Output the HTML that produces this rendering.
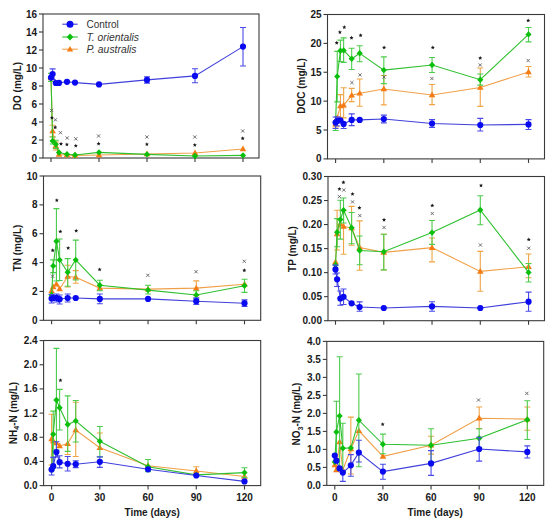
<!DOCTYPE html>
<html><head><meta charset="utf-8"><style>
html,body{margin:0;padding:0;background:#fff;width:550px;height:526px;overflow:hidden}
svg{display:block}
.tl{font-family:"Liberation Sans",sans-serif;font-weight:bold;font-size:10px;fill:#1a1a1a}
.ax{font-family:"Liberation Sans",sans-serif;font-weight:bold;font-size:10px;fill:#1a1a1a}
.lg{font-family:"Liberation Sans",sans-serif;font-size:10px;fill:#333}
</style></head><body>
<svg width="550" height="526" viewBox="0 0 550 526">
<rect x="43" y="14" width="216" height="144" fill="none" stroke="#3a3a3a" stroke-width="1.1"/>
<line x1="39" y1="158" x2="43" y2="158" stroke="#3a3a3a" stroke-width="1.1"/>
<text transform="translate(37,161.5)" text-anchor="end" class="tl">0</text>
<line x1="39" y1="140" x2="43" y2="140" stroke="#3a3a3a" stroke-width="1.1"/>
<text transform="translate(37,143.5)" text-anchor="end" class="tl">2</text>
<line x1="39" y1="122" x2="43" y2="122" stroke="#3a3a3a" stroke-width="1.1"/>
<text transform="translate(37,125.5)" text-anchor="end" class="tl">4</text>
<line x1="39" y1="104" x2="43" y2="104" stroke="#3a3a3a" stroke-width="1.1"/>
<text transform="translate(37,107.5)" text-anchor="end" class="tl">6</text>
<line x1="39" y1="86" x2="43" y2="86" stroke="#3a3a3a" stroke-width="1.1"/>
<text transform="translate(37,89.5)" text-anchor="end" class="tl">8</text>
<line x1="39" y1="68" x2="43" y2="68" stroke="#3a3a3a" stroke-width="1.1"/>
<text transform="translate(37,71.5)" text-anchor="end" class="tl">10</text>
<line x1="39" y1="50" x2="43" y2="50" stroke="#3a3a3a" stroke-width="1.1"/>
<text transform="translate(37,53.5)" text-anchor="end" class="tl">12</text>
<line x1="39" y1="32" x2="43" y2="32" stroke="#3a3a3a" stroke-width="1.1"/>
<text transform="translate(37,35.5)" text-anchor="end" class="tl">14</text>
<line x1="39" y1="14" x2="43" y2="14" stroke="#3a3a3a" stroke-width="1.1"/>
<text transform="translate(37,17.5)" text-anchor="end" class="tl">16</text>
<line x1="51" y1="158" x2="51" y2="162" stroke="#3a3a3a" stroke-width="1.1"/>
<line x1="99" y1="158" x2="99" y2="162" stroke="#3a3a3a" stroke-width="1.1"/>
<line x1="147" y1="158" x2="147" y2="162" stroke="#3a3a3a" stroke-width="1.1"/>
<line x1="195" y1="158" x2="195" y2="162" stroke="#3a3a3a" stroke-width="1.1"/>
<line x1="243" y1="158" x2="243" y2="162" stroke="#3a3a3a" stroke-width="1.1"/>
<text transform="translate(20.6,86) rotate(-90)" text-anchor="middle" class="ax">DO (mg/L)</text>
<path d="M52.6 131V125.3M49.6 125.3H55.6" stroke="#f0a446" stroke-width="1.1" fill="none"/>
<path d="M52.6 131V136.8M49.6 136.8H55.6" stroke="#f0a446" stroke-width="1.1" fill="none"/>
<path d="M55.8 146V142M52.8 142H58.8" stroke="#f0a446" stroke-width="1.1" fill="none"/>
<path d="M55.8 146V150M52.8 150H58.8" stroke="#f0a446" stroke-width="1.1" fill="none"/>
<polyline points="51,78 52.6,131 55.8,146 59,154.5 67,155 75,155.5 99,155 147,154 195,153 243,149" fill="none" stroke="#f0a048" stroke-width="1.1"/>
<path d="M51 74.6L54.3 80.3L47.7 80.3Z" fill="#f57c14"/>
<path d="M52.6 127.6L55.9 133.3L49.3 133.3Z" fill="#f57c14"/>
<path d="M55.8 142.6L59.1 148.3L52.5 148.3Z" fill="#f57c14"/>
<path d="M59 151.1L62.3 156.8L55.7 156.8Z" fill="#f57c14"/>
<path d="M67 151.6L70.3 157.3L63.7 157.3Z" fill="#f57c14"/>
<path d="M75 152.1L78.3 157.8L71.7 157.8Z" fill="#f57c14"/>
<path d="M99 151.6L102.3 157.3L95.7 157.3Z" fill="#f57c14"/>
<path d="M147 150.6L150.3 156.3L143.7 156.3Z" fill="#f57c14"/>
<path d="M195 149.6L198.3 155.3L191.7 155.3Z" fill="#f57c14"/>
<path d="M243 145.6L246.3 151.3L239.7 151.3Z" fill="#f57c14"/>
<path d="M51 78V73.4M48 73.4H54" stroke="#4ccc4c" stroke-width="1.1" fill="none"/>
<path d="M51 78V81.5M48 81.5H54" stroke="#4ccc4c" stroke-width="1.1" fill="none"/>
<path d="M52.6 140.9V137M49.6 137H55.6" stroke="#4ccc4c" stroke-width="1.1" fill="none"/>
<path d="M52.6 140.9V144M49.6 144H55.6" stroke="#4ccc4c" stroke-width="1.1" fill="none"/>
<path d="M55.8 144.3V140.3M52.8 140.3H58.8" stroke="#4ccc4c" stroke-width="1.1" fill="none"/>
<path d="M55.8 144.3V148.4M52.8 148.4H58.8" stroke="#4ccc4c" stroke-width="1.1" fill="none"/>
<polyline points="51,78 52.6,140.9 55.8,144.3 59,152.5 67,154.3 75,155 99,152.4 147,154.4 195,156 243,155.4" fill="none" stroke="#2ec02e" stroke-width="1.1"/>
<path d="M51 74.8L54.1 78L51 81.2L47.9 78Z" fill="#0cbf0c"/>
<path d="M52.6 137.7L55.7 140.9L52.6 144.1L49.5 140.9Z" fill="#0cbf0c"/>
<path d="M55.8 141.1L58.9 144.3L55.8 147.5L52.7 144.3Z" fill="#0cbf0c"/>
<path d="M59 149.3L62.1 152.5L59 155.7L55.9 152.5Z" fill="#0cbf0c"/>
<path d="M67 151.1L70.1 154.3L67 157.5L63.9 154.3Z" fill="#0cbf0c"/>
<path d="M75 151.8L78.1 155L75 158.2L71.9 155Z" fill="#0cbf0c"/>
<path d="M99 149.2L102.1 152.4L99 155.6L95.9 152.4Z" fill="#0cbf0c"/>
<path d="M147 151.2L150.1 154.4L147 157.6L143.9 154.4Z" fill="#0cbf0c"/>
<path d="M195 152.8L198.1 156L195 159.2L191.9 156Z" fill="#0cbf0c"/>
<path d="M243 152.2L246.1 155.4L243 158.6L239.9 155.4Z" fill="#0cbf0c"/>
<path d="M52.6 74.1V68.9M49.6 68.9H55.6" stroke="#4a4ae6" stroke-width="1.1" fill="none"/>
<path d="M52.6 74.1V79.5M49.6 79.5H55.6" stroke="#4a4ae6" stroke-width="1.1" fill="none"/>
<path d="M147 79.9V76.7M144 76.7H150" stroke="#4a4ae6" stroke-width="1.1" fill="none"/>
<path d="M147 79.9V83.1M144 83.1H150" stroke="#4a4ae6" stroke-width="1.1" fill="none"/>
<path d="M195 75.9V68.7M192 68.7H198" stroke="#4a4ae6" stroke-width="1.1" fill="none"/>
<path d="M195 75.9V82.8M192 82.8H198" stroke="#4a4ae6" stroke-width="1.1" fill="none"/>
<path d="M243 46.6V27.5M240 27.5H246" stroke="#4a4ae6" stroke-width="1.1" fill="none"/>
<path d="M243 46.6V66M240 66H246" stroke="#4a4ae6" stroke-width="1.1" fill="none"/>
<polyline points="51,77.6 52.6,74.1 55.8,83 59,82.9 67,81.8 75,82.6 99,84.4 147,79.9 195,75.9 243,46.6" fill="none" stroke="#4040dc" stroke-width="1.1"/>
<circle cx="51" cy="77.6" r="3.1" fill="#0a0af0"/>
<circle cx="52.6" cy="74.1" r="3.1" fill="#0a0af0"/>
<circle cx="55.8" cy="83" r="3.1" fill="#0a0af0"/>
<circle cx="59" cy="82.9" r="3.1" fill="#0a0af0"/>
<circle cx="67" cy="81.8" r="3.1" fill="#0a0af0"/>
<circle cx="75" cy="82.6" r="3.1" fill="#0a0af0"/>
<circle cx="99" cy="84.4" r="3.1" fill="#0a0af0"/>
<circle cx="147" cy="79.9" r="3.1" fill="#0a0af0"/>
<circle cx="195" cy="75.9" r="3.1" fill="#0a0af0"/>
<circle cx="243" cy="46.6" r="3.1" fill="#0a0af0"/>
<path transform="translate(51.9,117.8)" d="M0.00 -2.10L0.59 -0.81L2.00 -0.65L0.95 0.31L1.23 1.70L0.00 1.00L-1.23 1.70L-0.95 0.31L-2.00 -0.65L-0.59 -0.81Z" fill="#1a1a1a"/>
<path transform="translate(55.2,127.4)" d="M0.00 -2.10L0.59 -0.81L2.00 -0.65L0.95 0.31L1.23 1.70L0.00 1.00L-1.23 1.70L-0.95 0.31L-2.00 -0.65L-0.59 -0.81Z" fill="#1a1a1a"/>
<path transform="translate(61,143.9)" d="M0.00 -2.10L0.59 -0.81L2.00 -0.65L0.95 0.31L1.23 1.70L0.00 1.00L-1.23 1.70L-0.95 0.31L-2.00 -0.65L-0.59 -0.81Z" fill="#1a1a1a"/>
<path transform="translate(66.9,144.5)" d="M0.00 -2.10L0.59 -0.81L2.00 -0.65L0.95 0.31L1.23 1.70L0.00 1.00L-1.23 1.70L-0.95 0.31L-2.00 -0.65L-0.59 -0.81Z" fill="#1a1a1a"/>
<path transform="translate(75.8,145.8)" d="M0.00 -2.10L0.59 -0.81L2.00 -0.65L0.95 0.31L1.23 1.70L0.00 1.00L-1.23 1.70L-0.95 0.31L-2.00 -0.65L-0.59 -0.81Z" fill="#1a1a1a"/>
<path transform="translate(98.6,143.7)" d="M0.00 -2.10L0.59 -0.81L2.00 -0.65L0.95 0.31L1.23 1.70L0.00 1.00L-1.23 1.70L-0.95 0.31L-2.00 -0.65L-0.59 -0.81Z" fill="#1a1a1a"/>
<path transform="translate(146.9,144.3)" d="M0.00 -2.10L0.59 -0.81L2.00 -0.65L0.95 0.31L1.23 1.70L0.00 1.00L-1.23 1.70L-0.95 0.31L-2.00 -0.65L-0.59 -0.81Z" fill="#1a1a1a"/>
<path transform="translate(194.8,145)" d="M0.00 -2.10L0.59 -0.81L2.00 -0.65L0.95 0.31L1.23 1.70L0.00 1.00L-1.23 1.70L-0.95 0.31L-2.00 -0.65L-0.59 -0.81Z" fill="#1a1a1a"/>
<path transform="translate(242.7,138.4)" d="M0.00 -2.10L0.59 -0.81L2.00 -0.65L0.95 0.31L1.23 1.70L0.00 1.00L-1.23 1.70L-0.95 0.31L-2.00 -0.65L-0.59 -0.81Z" fill="#1a1a1a"/>
<path d="M50 108.8L53.2 112M50 112L53.2 108.8" stroke="#606060" stroke-width="0.9"/>
<path d="M53.8 118.2L57 121.4M53.8 121.4L57 118.2" stroke="#606060" stroke-width="0.9"/>
<path d="M58.9 131.1L62.1 134.3M58.9 134.3L62.1 131.1" stroke="#606060" stroke-width="0.9"/>
<path d="M65.6 136.4L68.8 139.6M65.6 139.6L68.8 136.4" stroke="#606060" stroke-width="0.9"/>
<path d="M74.2 137.2L77.4 140.4M74.2 140.4L77.4 137.2" stroke="#606060" stroke-width="0.9"/>
<path d="M97 134.4L100.2 137.6M97 137.6L100.2 134.4" stroke="#606060" stroke-width="0.9"/>
<path d="M145.3 135.4L148.5 138.6M145.3 138.6L148.5 135.4" stroke="#606060" stroke-width="0.9"/>
<path d="M193.2 135.4L196.4 138.6M193.2 138.6L196.4 135.4" stroke="#606060" stroke-width="0.9"/>
<path d="M241.1 129.4L244.3 132.6M241.1 132.6L244.3 129.4" stroke="#606060" stroke-width="0.9"/>
<rect x="327.5" y="14.5" width="217" height="144.4" fill="none" stroke="#3a3a3a" stroke-width="1.1"/>
<line x1="323.5" y1="158.9" x2="327.5" y2="158.9" stroke="#3a3a3a" stroke-width="1.1"/>
<text transform="translate(321.5,162.4)" text-anchor="end" class="tl">0</text>
<line x1="323.5" y1="130.02" x2="327.5" y2="130.02" stroke="#3a3a3a" stroke-width="1.1"/>
<text transform="translate(321.5,133.52)" text-anchor="end" class="tl">5</text>
<line x1="323.5" y1="101.14" x2="327.5" y2="101.14" stroke="#3a3a3a" stroke-width="1.1"/>
<text transform="translate(321.5,104.64)" text-anchor="end" class="tl">10</text>
<line x1="323.5" y1="72.26" x2="327.5" y2="72.26" stroke="#3a3a3a" stroke-width="1.1"/>
<text transform="translate(321.5,75.76)" text-anchor="end" class="tl">15</text>
<line x1="323.5" y1="43.38" x2="327.5" y2="43.38" stroke="#3a3a3a" stroke-width="1.1"/>
<text transform="translate(321.5,46.88)" text-anchor="end" class="tl">20</text>
<line x1="323.5" y1="14.5" x2="327.5" y2="14.5" stroke="#3a3a3a" stroke-width="1.1"/>
<text transform="translate(321.5,18)" text-anchor="end" class="tl">25</text>
<line x1="335.6" y1="158.9" x2="335.6" y2="162.9" stroke="#3a3a3a" stroke-width="1.1"/>
<line x1="383.83" y1="158.9" x2="383.83" y2="162.9" stroke="#3a3a3a" stroke-width="1.1"/>
<line x1="432.05" y1="158.9" x2="432.05" y2="162.9" stroke="#3a3a3a" stroke-width="1.1"/>
<line x1="480.27" y1="158.9" x2="480.27" y2="162.9" stroke="#3a3a3a" stroke-width="1.1"/>
<line x1="528.5" y1="158.9" x2="528.5" y2="162.9" stroke="#3a3a3a" stroke-width="1.1"/>
<text transform="translate(304.5,86) rotate(-90)" text-anchor="middle" class="ax">DOC (mg/L)</text>
<path d="M335.6 124V127M332.6 127H338.6" stroke="#f0a446" stroke-width="1.1" fill="none"/>
<path d="M340.42 105.9V94.6M337.42 94.6H343.42" stroke="#f0a446" stroke-width="1.1" fill="none"/>
<path d="M340.42 105.9V117.2M337.42 117.2H343.42" stroke="#f0a446" stroke-width="1.1" fill="none"/>
<path d="M343.64 105.2V87.7M340.64 87.7H346.64" stroke="#f0a446" stroke-width="1.1" fill="none"/>
<path d="M343.64 105.2V117.9M340.64 117.9H346.64" stroke="#f0a446" stroke-width="1.1" fill="none"/>
<path d="M351.68 95.3V88.4M348.68 88.4H354.68" stroke="#f0a446" stroke-width="1.1" fill="none"/>
<path d="M351.68 95.3V101.6M348.68 101.6H354.68" stroke="#f0a446" stroke-width="1.1" fill="none"/>
<path d="M359.71 93.3V79M356.71 79H362.71" stroke="#f0a446" stroke-width="1.1" fill="none"/>
<path d="M359.71 93.3V106.2M356.71 106.2H362.71" stroke="#f0a446" stroke-width="1.1" fill="none"/>
<path d="M383.83 89V75.5M380.83 75.5H386.83" stroke="#f0a446" stroke-width="1.1" fill="none"/>
<path d="M383.83 89V104.9M380.83 104.9H386.83" stroke="#f0a446" stroke-width="1.1" fill="none"/>
<path d="M432.05 95V84.5M429.05 84.5H435.05" stroke="#f0a446" stroke-width="1.1" fill="none"/>
<path d="M432.05 95V104.6M429.05 104.6H435.05" stroke="#f0a446" stroke-width="1.1" fill="none"/>
<path d="M480.27 87.5V68M477.27 68H483.27" stroke="#f0a446" stroke-width="1.1" fill="none"/>
<path d="M480.27 87.5V106.4M477.27 106.4H483.27" stroke="#f0a446" stroke-width="1.1" fill="none"/>
<path d="M528.5 71.9V66.5M525.5 66.5H531.5" stroke="#f0a446" stroke-width="1.1" fill="none"/>
<path d="M528.5 71.9V77M525.5 77H531.5" stroke="#f0a446" stroke-width="1.1" fill="none"/>
<polyline points="335.6,124 337.21,118 340.42,105.9 343.64,105.2 351.68,95.3 359.71,93.3 383.83,89 432.05,95 480.27,87.5 528.5,71.9" fill="none" stroke="#f0a048" stroke-width="1.1"/>
<path d="M335.6 120.6L338.9 126.3L332.3 126.3Z" fill="#f57c14"/>
<path d="M337.21 114.6L340.51 120.3L333.91 120.3Z" fill="#f57c14"/>
<path d="M340.42 102.5L343.72 108.2L337.12 108.2Z" fill="#f57c14"/>
<path d="M343.64 101.8L346.94 107.5L340.34 107.5Z" fill="#f57c14"/>
<path d="M351.68 91.9L354.98 97.6L348.38 97.6Z" fill="#f57c14"/>
<path d="M359.71 89.9L363.01 95.6L356.41 95.6Z" fill="#f57c14"/>
<path d="M383.83 85.6L387.13 91.3L380.53 91.3Z" fill="#f57c14"/>
<path d="M432.05 91.6L435.35 97.3L428.75 97.3Z" fill="#f57c14"/>
<path d="M480.27 84.1L483.57 89.8L476.97 89.8Z" fill="#f57c14"/>
<path d="M528.5 68.5L531.8 74.2L525.2 74.2Z" fill="#f57c14"/>
<path d="M335.6 122V130.5M332.6 130.5H338.6" stroke="#4ccc4c" stroke-width="1.1" fill="none"/>
<path d="M337.21 76.4V51.4M334.21 51.4H340.21" stroke="#4ccc4c" stroke-width="1.1" fill="none"/>
<path d="M337.21 76.4V101.9M334.21 101.9H340.21" stroke="#4ccc4c" stroke-width="1.1" fill="none"/>
<path d="M340.42 50.7V40.1M337.42 40.1H343.42" stroke="#4ccc4c" stroke-width="1.1" fill="none"/>
<path d="M340.42 50.7V61.5M337.42 61.5H343.42" stroke="#4ccc4c" stroke-width="1.1" fill="none"/>
<path d="M343.64 50.4V37.9M340.64 37.9H346.64" stroke="#4ccc4c" stroke-width="1.1" fill="none"/>
<path d="M343.64 50.4V62.4M340.64 62.4H346.64" stroke="#4ccc4c" stroke-width="1.1" fill="none"/>
<path d="M351.68 58.8V48.2M348.68 48.2H354.68" stroke="#4ccc4c" stroke-width="1.1" fill="none"/>
<path d="M351.68 58.8V69.5M348.68 69.5H354.68" stroke="#4ccc4c" stroke-width="1.1" fill="none"/>
<path d="M359.71 53.3V45.7M356.71 45.7H362.71" stroke="#4ccc4c" stroke-width="1.1" fill="none"/>
<path d="M359.71 53.3V61.7M356.71 61.7H362.71" stroke="#4ccc4c" stroke-width="1.1" fill="none"/>
<path d="M383.83 70.1V56.9M380.83 56.9H386.83" stroke="#4ccc4c" stroke-width="1.1" fill="none"/>
<path d="M383.83 70.1V83.6M380.83 83.6H386.83" stroke="#4ccc4c" stroke-width="1.1" fill="none"/>
<path d="M432.05 65V57.5M429.05 57.5H435.05" stroke="#4ccc4c" stroke-width="1.1" fill="none"/>
<path d="M432.05 65V72.5M429.05 72.5H435.05" stroke="#4ccc4c" stroke-width="1.1" fill="none"/>
<path d="M480.27 79.7V74M477.27 74H483.27" stroke="#4ccc4c" stroke-width="1.1" fill="none"/>
<path d="M480.27 79.7V85.1M477.27 85.1H483.27" stroke="#4ccc4c" stroke-width="1.1" fill="none"/>
<path d="M528.5 34.4V27.5M525.5 27.5H531.5" stroke="#4ccc4c" stroke-width="1.1" fill="none"/>
<path d="M528.5 34.4V41.9M525.5 41.9H531.5" stroke="#4ccc4c" stroke-width="1.1" fill="none"/>
<polyline points="335.6,122 337.21,76.4 340.42,50.7 343.64,50.4 351.68,58.8 359.71,53.3 383.83,70.1 432.05,65 480.27,79.7 528.5,34.4" fill="none" stroke="#2ec02e" stroke-width="1.1"/>
<path d="M335.6 118.8L338.7 122L335.6 125.2L332.5 122Z" fill="#0cbf0c"/>
<path d="M337.21 73.2L340.31 76.4L337.21 79.6L334.11 76.4Z" fill="#0cbf0c"/>
<path d="M340.42 47.5L343.52 50.7L340.42 53.9L337.32 50.7Z" fill="#0cbf0c"/>
<path d="M343.64 47.2L346.74 50.4L343.64 53.6L340.54 50.4Z" fill="#0cbf0c"/>
<path d="M351.68 55.6L354.78 58.8L351.68 62L348.57 58.8Z" fill="#0cbf0c"/>
<path d="M359.71 50.1L362.81 53.3L359.71 56.5L356.61 53.3Z" fill="#0cbf0c"/>
<path d="M383.83 66.9L386.93 70.1L383.83 73.3L380.73 70.1Z" fill="#0cbf0c"/>
<path d="M432.05 61.8L435.15 65L432.05 68.2L428.95 65Z" fill="#0cbf0c"/>
<path d="M480.27 76.5L483.38 79.7L480.27 82.9L477.17 79.7Z" fill="#0cbf0c"/>
<path d="M528.5 31.2L531.6 34.4L528.5 37.6L525.4 34.4Z" fill="#0cbf0c"/>
<path d="M335.6 122.5V117M332.6 117H338.6" stroke="#4a4ae6" stroke-width="1.1" fill="none"/>
<path d="M335.6 122.5V128.5M332.6 128.5H338.6" stroke="#4a4ae6" stroke-width="1.1" fill="none"/>
<path d="M337.21 121V117M334.21 117H340.21" stroke="#4a4ae6" stroke-width="1.1" fill="none"/>
<path d="M337.21 121V126M334.21 126H340.21" stroke="#4a4ae6" stroke-width="1.1" fill="none"/>
<path d="M343.64 123.9V128.5M340.64 128.5H346.64" stroke="#4a4ae6" stroke-width="1.1" fill="none"/>
<path d="M351.68 119.9V113.9M348.68 113.9H354.68" stroke="#4a4ae6" stroke-width="1.1" fill="none"/>
<path d="M351.68 119.9V125.6M348.68 125.6H354.68" stroke="#4a4ae6" stroke-width="1.1" fill="none"/>
<path d="M383.83 119V115.1M380.83 115.1H386.83" stroke="#4a4ae6" stroke-width="1.1" fill="none"/>
<path d="M383.83 119V122.9M380.83 122.9H386.83" stroke="#4a4ae6" stroke-width="1.1" fill="none"/>
<path d="M432.05 123.5V119.6M429.05 119.6H435.05" stroke="#4a4ae6" stroke-width="1.1" fill="none"/>
<path d="M432.05 123.5V127.4M429.05 127.4H435.05" stroke="#4a4ae6" stroke-width="1.1" fill="none"/>
<path d="M480.27 125V118.4M477.27 118.4H483.27" stroke="#4a4ae6" stroke-width="1.1" fill="none"/>
<path d="M480.27 125V131M477.27 131H483.27" stroke="#4a4ae6" stroke-width="1.1" fill="none"/>
<path d="M528.5 124.4V119.6M525.5 119.6H531.5" stroke="#4a4ae6" stroke-width="1.1" fill="none"/>
<path d="M528.5 124.4V129.5M525.5 129.5H531.5" stroke="#4a4ae6" stroke-width="1.1" fill="none"/>
<polyline points="335.6,122.5 337.21,121 340.42,120.3 343.64,123.9 351.68,119.9 359.71,119.9 383.83,119 432.05,123.5 480.27,125 528.5,124.4" fill="none" stroke="#4040dc" stroke-width="1.1"/>
<circle cx="335.6" cy="122.5" r="3.1" fill="#0a0af0"/>
<circle cx="337.21" cy="121" r="3.1" fill="#0a0af0"/>
<circle cx="340.42" cy="120.3" r="3.1" fill="#0a0af0"/>
<circle cx="343.64" cy="123.9" r="3.1" fill="#0a0af0"/>
<circle cx="351.68" cy="119.9" r="3.1" fill="#0a0af0"/>
<circle cx="359.71" cy="119.9" r="3.1" fill="#0a0af0"/>
<circle cx="383.83" cy="119" r="3.1" fill="#0a0af0"/>
<circle cx="432.05" cy="123.5" r="3.1" fill="#0a0af0"/>
<circle cx="480.27" cy="125" r="3.1" fill="#0a0af0"/>
<circle cx="528.5" cy="124.4" r="3.1" fill="#0a0af0"/>
<path transform="translate(336.7,42.9)" d="M0.00 -2.10L0.59 -0.81L2.00 -0.65L0.95 0.31L1.23 1.70L0.00 1.00L-1.23 1.70L-0.95 0.31L-2.00 -0.65L-0.59 -0.81Z" fill="#1a1a1a"/>
<path transform="translate(339.9,32.2)" d="M0.00 -2.10L0.59 -0.81L2.00 -0.65L0.95 0.31L1.23 1.70L0.00 1.00L-1.23 1.70L-0.95 0.31L-2.00 -0.65L-0.59 -0.81Z" fill="#1a1a1a"/>
<path transform="translate(344.3,27.2)" d="M0.00 -2.10L0.59 -0.81L2.00 -0.65L0.95 0.31L1.23 1.70L0.00 1.00L-1.23 1.70L-0.95 0.31L-2.00 -0.65L-0.59 -0.81Z" fill="#1a1a1a"/>
<path transform="translate(351.5,37.9)" d="M0.00 -2.10L0.59 -0.81L2.00 -0.65L0.95 0.31L1.23 1.70L0.00 1.00L-1.23 1.70L-0.95 0.31L-2.00 -0.65L-0.59 -0.81Z" fill="#1a1a1a"/>
<path transform="translate(360.6,35.4)" d="M0.00 -2.10L0.59 -0.81L2.00 -0.65L0.95 0.31L1.23 1.70L0.00 1.00L-1.23 1.70L-0.95 0.31L-2.00 -0.65L-0.59 -0.81Z" fill="#1a1a1a"/>
<path transform="translate(384.1,47.6)" d="M0.00 -2.10L0.59 -0.81L2.00 -0.65L0.95 0.31L1.23 1.70L0.00 1.00L-1.23 1.70L-0.95 0.31L-2.00 -0.65L-0.59 -0.81Z" fill="#1a1a1a"/>
<path transform="translate(432.8,47.6)" d="M0.00 -2.10L0.59 -0.81L2.00 -0.65L0.95 0.31L1.23 1.70L0.00 1.00L-1.23 1.70L-0.95 0.31L-2.00 -0.65L-0.59 -0.81Z" fill="#1a1a1a"/>
<path transform="translate(480.2,58.1)" d="M0.00 -2.10L0.59 -0.81L2.00 -0.65L0.95 0.31L1.23 1.70L0.00 1.00L-1.23 1.70L-0.95 0.31L-2.00 -0.65L-0.59 -0.81Z" fill="#1a1a1a"/>
<path transform="translate(528.2,20.6)" d="M0.00 -2.10L0.59 -0.81L2.00 -0.65L0.95 0.31L1.23 1.70L0.00 1.00L-1.23 1.70L-0.95 0.31L-2.00 -0.65L-0.59 -0.81Z" fill="#1a1a1a"/>
<path d="M358.4 73.3L361.6 76.5M358.4 76.5L361.6 73.3" stroke="#606060" stroke-width="0.9"/>
<path d="M350.3 81L353.5 84.2M350.3 84.2L353.5 81" stroke="#606060" stroke-width="0.9"/>
<path d="M382.5 75.4L385.7 78.6M382.5 78.6L385.7 75.4" stroke="#606060" stroke-width="0.9"/>
<path d="M430.3 76.9L433.5 80.1M430.3 80.1L433.5 76.9" stroke="#606060" stroke-width="0.9"/>
<path d="M478.6 63.4L481.8 66.6M478.6 66.6L481.8 63.4" stroke="#606060" stroke-width="0.9"/>
<path d="M526.6 58.9L529.8 62.1M526.6 62.1L529.8 58.9" stroke="#606060" stroke-width="0.9"/>
<rect x="43.5" y="176" width="217.2" height="144.3" fill="none" stroke="#3a3a3a" stroke-width="1.1"/>
<line x1="39.5" y1="320.3" x2="43.5" y2="320.3" stroke="#3a3a3a" stroke-width="1.1"/>
<text transform="translate(37.5,323.8)" text-anchor="end" class="tl">0</text>
<line x1="39.5" y1="291.44" x2="43.5" y2="291.44" stroke="#3a3a3a" stroke-width="1.1"/>
<text transform="translate(37.5,294.94)" text-anchor="end" class="tl">2</text>
<line x1="39.5" y1="262.58" x2="43.5" y2="262.58" stroke="#3a3a3a" stroke-width="1.1"/>
<text transform="translate(37.5,266.08)" text-anchor="end" class="tl">4</text>
<line x1="39.5" y1="233.72" x2="43.5" y2="233.72" stroke="#3a3a3a" stroke-width="1.1"/>
<text transform="translate(37.5,237.22)" text-anchor="end" class="tl">6</text>
<line x1="39.5" y1="204.86" x2="43.5" y2="204.86" stroke="#3a3a3a" stroke-width="1.1"/>
<text transform="translate(37.5,208.36)" text-anchor="end" class="tl">8</text>
<line x1="39.5" y1="176" x2="43.5" y2="176" stroke="#3a3a3a" stroke-width="1.1"/>
<text transform="translate(37.5,179.5)" text-anchor="end" class="tl">10</text>
<line x1="51.6" y1="320.3" x2="51.6" y2="324.3" stroke="#3a3a3a" stroke-width="1.1"/>
<line x1="99.82" y1="320.3" x2="99.82" y2="324.3" stroke="#3a3a3a" stroke-width="1.1"/>
<line x1="148.05" y1="320.3" x2="148.05" y2="324.3" stroke="#3a3a3a" stroke-width="1.1"/>
<line x1="196.27" y1="320.3" x2="196.27" y2="324.3" stroke="#3a3a3a" stroke-width="1.1"/>
<line x1="244.5" y1="320.3" x2="244.5" y2="324.3" stroke="#3a3a3a" stroke-width="1.1"/>
<text transform="translate(21,248) rotate(-90)" text-anchor="middle" class="ax">TN (mg/L)</text>
<path d="M67.67 276.5V265.2M64.67 265.2H70.67" stroke="#f0a446" stroke-width="1.1" fill="none"/>
<path d="M67.67 276.5V287M64.67 287H70.67" stroke="#f0a446" stroke-width="1.1" fill="none"/>
<path d="M75.71 277.2V270.6M72.71 270.6H78.71" stroke="#f0a446" stroke-width="1.1" fill="none"/>
<path d="M75.71 277.2V283.2M72.71 283.2H78.71" stroke="#f0a446" stroke-width="1.1" fill="none"/>
<path d="M196.27 288.1V280.9M193.27 280.9H199.27" stroke="#f0a446" stroke-width="1.1" fill="none"/>
<path d="M196.27 288.1V295.6M193.27 295.6H199.27" stroke="#f0a446" stroke-width="1.1" fill="none"/>
<polyline points="51.6,291 53.21,287 56.42,284.2 59.64,289 67.67,276.5 75.71,277.2 99.82,288.1 148.05,289.1 196.27,288.1 244.5,284.2" fill="none" stroke="#f0a048" stroke-width="1.1"/>
<path d="M51.6 287.6L54.9 293.3L48.3 293.3Z" fill="#f57c14"/>
<path d="M53.21 283.6L56.51 289.3L49.91 289.3Z" fill="#f57c14"/>
<path d="M56.42 280.8L59.72 286.5L53.12 286.5Z" fill="#f57c14"/>
<path d="M59.64 285.6L62.94 291.3L56.34 291.3Z" fill="#f57c14"/>
<path d="M67.67 273.1L70.97 278.8L64.38 278.8Z" fill="#f57c14"/>
<path d="M75.71 273.8L79.01 279.5L72.41 279.5Z" fill="#f57c14"/>
<path d="M99.82 284.7L103.12 290.4L96.52 290.4Z" fill="#f57c14"/>
<path d="M148.05 285.7L151.35 291.4L144.75 291.4Z" fill="#f57c14"/>
<path d="M196.27 284.7L199.57 290.4L192.97 290.4Z" fill="#f57c14"/>
<path d="M244.5 280.8L247.8 286.5L241.2 286.5Z" fill="#f57c14"/>
<path d="M53.21 265.9V259.9M50.21 259.9H56.21" stroke="#4ccc4c" stroke-width="1.1" fill="none"/>
<path d="M53.21 265.9V272.6M50.21 272.6H56.21" stroke="#4ccc4c" stroke-width="1.1" fill="none"/>
<path d="M56.42 241.2V208.6M53.42 208.6H59.42" stroke="#4ccc4c" stroke-width="1.1" fill="none"/>
<path d="M56.42 241.2V281M53.42 281H59.42" stroke="#4ccc4c" stroke-width="1.1" fill="none"/>
<path d="M59.64 259.9V239M56.64 239H62.64" stroke="#4ccc4c" stroke-width="1.1" fill="none"/>
<path d="M59.64 259.9V280.5M56.64 280.5H62.64" stroke="#4ccc4c" stroke-width="1.1" fill="none"/>
<path d="M67.67 272.3V258.6M64.67 258.6H70.67" stroke="#4ccc4c" stroke-width="1.1" fill="none"/>
<path d="M67.67 272.3V286.2M64.67 286.2H70.67" stroke="#4ccc4c" stroke-width="1.1" fill="none"/>
<path d="M75.71 259.9V240.1M72.71 240.1H78.71" stroke="#4ccc4c" stroke-width="1.1" fill="none"/>
<path d="M75.71 259.9V280M72.71 280H78.71" stroke="#4ccc4c" stroke-width="1.1" fill="none"/>
<path d="M99.82 285.2V280.2M96.82 280.2H102.82" stroke="#4ccc4c" stroke-width="1.1" fill="none"/>
<path d="M99.82 285.2V290.7M96.82 290.7H102.82" stroke="#4ccc4c" stroke-width="1.1" fill="none"/>
<path d="M148.05 290.1V285.2M145.05 285.2H151.05" stroke="#4ccc4c" stroke-width="1.1" fill="none"/>
<path d="M148.05 290.1V294M145.05 294H151.05" stroke="#4ccc4c" stroke-width="1.1" fill="none"/>
<path d="M196.27 295V290.7M193.27 290.7H199.27" stroke="#4ccc4c" stroke-width="1.1" fill="none"/>
<path d="M196.27 295V298.9M193.27 298.9H199.27" stroke="#4ccc4c" stroke-width="1.1" fill="none"/>
<path d="M244.5 285.8V279.3M241.5 279.3H247.5" stroke="#4ccc4c" stroke-width="1.1" fill="none"/>
<path d="M244.5 285.8V292.4M241.5 292.4H247.5" stroke="#4ccc4c" stroke-width="1.1" fill="none"/>
<polyline points="51.6,295 53.21,265.9 56.42,241.2 59.64,259.9 67.67,272.3 75.71,259.9 99.82,285.2 148.05,290.1 196.27,295 244.5,285.8" fill="none" stroke="#2ec02e" stroke-width="1.1"/>
<path d="M51.6 291.8L54.7 295L51.6 298.2L48.5 295Z" fill="#0cbf0c"/>
<path d="M53.21 262.7L56.31 265.9L53.21 269.1L50.11 265.9Z" fill="#0cbf0c"/>
<path d="M56.42 238L59.52 241.2L56.42 244.4L53.32 241.2Z" fill="#0cbf0c"/>
<path d="M59.64 256.7L62.74 259.9L59.64 263.1L56.54 259.9Z" fill="#0cbf0c"/>
<path d="M67.67 269.1L70.77 272.3L67.67 275.5L64.58 272.3Z" fill="#0cbf0c"/>
<path d="M75.71 256.7L78.81 259.9L75.71 263.1L72.61 259.9Z" fill="#0cbf0c"/>
<path d="M99.82 282L102.92 285.2L99.82 288.4L96.72 285.2Z" fill="#0cbf0c"/>
<path d="M148.05 286.9L151.15 290.1L148.05 293.3L144.95 290.1Z" fill="#0cbf0c"/>
<path d="M196.27 291.8L199.37 295L196.27 298.2L193.17 295Z" fill="#0cbf0c"/>
<path d="M244.5 282.6L247.6 285.8L244.5 289L241.4 285.8Z" fill="#0cbf0c"/>
<path d="M51.6 298.5V294.5M48.6 294.5H54.6" stroke="#4a4ae6" stroke-width="1.1" fill="none"/>
<path d="M51.6 298.5V303M48.6 303H54.6" stroke="#4a4ae6" stroke-width="1.1" fill="none"/>
<path d="M56.42 297.8V294M53.42 294H59.42" stroke="#4a4ae6" stroke-width="1.1" fill="none"/>
<path d="M56.42 297.8V302M53.42 302H59.42" stroke="#4a4ae6" stroke-width="1.1" fill="none"/>
<path d="M59.64 299.2V295M56.64 295H62.64" stroke="#4a4ae6" stroke-width="1.1" fill="none"/>
<path d="M59.64 299.2V304M56.64 304H62.64" stroke="#4a4ae6" stroke-width="1.1" fill="none"/>
<path d="M67.67 298V294M64.67 294H70.67" stroke="#4a4ae6" stroke-width="1.1" fill="none"/>
<path d="M67.67 298V302M64.67 302H70.67" stroke="#4a4ae6" stroke-width="1.1" fill="none"/>
<path d="M99.82 298.9V294M96.82 294H102.82" stroke="#4a4ae6" stroke-width="1.1" fill="none"/>
<path d="M99.82 298.9V303.8M96.82 303.8H102.82" stroke="#4a4ae6" stroke-width="1.1" fill="none"/>
<path d="M196.27 301.2V297.9M193.27 297.9H199.27" stroke="#4a4ae6" stroke-width="1.1" fill="none"/>
<path d="M196.27 301.2V304.4M193.27 304.4H199.27" stroke="#4a4ae6" stroke-width="1.1" fill="none"/>
<path d="M244.5 303.2V299.9M241.5 299.9H247.5" stroke="#4a4ae6" stroke-width="1.1" fill="none"/>
<path d="M244.5 303.2V306.4M241.5 306.4H247.5" stroke="#4a4ae6" stroke-width="1.1" fill="none"/>
<polyline points="51.6,298.5 53.21,298 56.42,297.8 59.64,299.2 67.67,298 75.71,298 99.82,298.9 148.05,298.9 196.27,301.2 244.5,303.2" fill="none" stroke="#4040dc" stroke-width="1.1"/>
<circle cx="51.6" cy="298.5" r="3.1" fill="#0a0af0"/>
<circle cx="53.21" cy="298" r="3.1" fill="#0a0af0"/>
<circle cx="56.42" cy="297.8" r="3.1" fill="#0a0af0"/>
<circle cx="59.64" cy="299.2" r="3.1" fill="#0a0af0"/>
<circle cx="67.67" cy="298" r="3.1" fill="#0a0af0"/>
<circle cx="75.71" cy="298" r="3.1" fill="#0a0af0"/>
<circle cx="99.82" cy="298.9" r="3.1" fill="#0a0af0"/>
<circle cx="148.05" cy="298.9" r="3.1" fill="#0a0af0"/>
<circle cx="196.27" cy="301.2" r="3.1" fill="#0a0af0"/>
<circle cx="244.5" cy="303.2" r="3.1" fill="#0a0af0"/>
<path transform="translate(52.71,250.4)" d="M0.00 -2.10L0.59 -0.81L2.00 -0.65L0.95 0.31L1.23 1.70L0.00 1.00L-1.23 1.70L-0.95 0.31L-2.00 -0.65L-0.59 -0.81Z" fill="#1a1a1a"/>
<path transform="translate(56.82,200.3)" d="M0.00 -2.10L0.59 -0.81L2.00 -0.65L0.95 0.31L1.23 1.70L0.00 1.00L-1.23 1.70L-0.95 0.31L-2.00 -0.65L-0.59 -0.81Z" fill="#1a1a1a"/>
<path transform="translate(60.34,231.6)" d="M0.00 -2.10L0.59 -0.81L2.00 -0.65L0.95 0.31L1.23 1.70L0.00 1.00L-1.23 1.70L-0.95 0.31L-2.00 -0.65L-0.59 -0.81Z" fill="#1a1a1a"/>
<path transform="translate(68.18,248)" d="M0.00 -2.10L0.59 -0.81L2.00 -0.65L0.95 0.31L1.23 1.70L0.00 1.00L-1.23 1.70L-0.95 0.31L-2.00 -0.65L-0.59 -0.81Z" fill="#1a1a1a"/>
<path transform="translate(76.21,230.8)" d="M0.00 -2.10L0.59 -0.81L2.00 -0.65L0.95 0.31L1.23 1.70L0.00 1.00L-1.23 1.70L-0.95 0.31L-2.00 -0.65L-0.59 -0.81Z" fill="#1a1a1a"/>
<path transform="translate(99.62,269.5)" d="M0.00 -2.10L0.59 -0.81L2.00 -0.65L0.95 0.31L1.23 1.70L0.00 1.00L-1.23 1.70L-0.95 0.31L-2.00 -0.65L-0.59 -0.81Z" fill="#1a1a1a"/>
<path transform="translate(244.3,270.4)" d="M0.00 -2.10L0.59 -0.81L2.00 -0.65L0.95 0.31L1.23 1.70L0.00 1.00L-1.23 1.70L-0.95 0.31L-2.00 -0.65L-0.59 -0.81Z" fill="#1a1a1a"/>
<path d="M51 274.6L54.2 277.8M51 277.8L54.2 274.6" stroke="#606060" stroke-width="0.9"/>
<path d="M146.25 273.7L149.45 276.9M146.25 276.9L149.45 273.7" stroke="#606060" stroke-width="0.9"/>
<path d="M194.47 270.1L197.67 273.3M194.47 273.3L197.67 270.1" stroke="#606060" stroke-width="0.9"/>
<path d="M242.7 259.7L245.9 262.9M242.7 262.9L245.9 259.7" stroke="#606060" stroke-width="0.9"/>
<rect x="328" y="176.5" width="216.5" height="144.2" fill="none" stroke="#3a3a3a" stroke-width="1.1"/>
<line x1="324" y1="320.7" x2="328" y2="320.7" stroke="#3a3a3a" stroke-width="1.1"/>
<text transform="translate(322,324.2)" text-anchor="end" class="tl">0.00</text>
<line x1="324" y1="296.66" x2="328" y2="296.66" stroke="#3a3a3a" stroke-width="1.1"/>
<text transform="translate(322,300.16)" text-anchor="end" class="tl">0.05</text>
<line x1="324" y1="272.63" x2="328" y2="272.63" stroke="#3a3a3a" stroke-width="1.1"/>
<text transform="translate(322,276.13)" text-anchor="end" class="tl">0.10</text>
<line x1="324" y1="248.59" x2="328" y2="248.59" stroke="#3a3a3a" stroke-width="1.1"/>
<text transform="translate(322,252.09)" text-anchor="end" class="tl">0.15</text>
<line x1="324" y1="224.56" x2="328" y2="224.56" stroke="#3a3a3a" stroke-width="1.1"/>
<text transform="translate(322,228.06)" text-anchor="end" class="tl">0.20</text>
<line x1="324" y1="200.52" x2="328" y2="200.52" stroke="#3a3a3a" stroke-width="1.1"/>
<text transform="translate(322,204.02)" text-anchor="end" class="tl">0.25</text>
<line x1="324" y1="176.49" x2="328" y2="176.49" stroke="#3a3a3a" stroke-width="1.1"/>
<text transform="translate(322,179.99)" text-anchor="end" class="tl">0.30</text>
<line x1="335.5" y1="320.7" x2="335.5" y2="324.7" stroke="#3a3a3a" stroke-width="1.1"/>
<line x1="383.76" y1="320.7" x2="383.76" y2="324.7" stroke="#3a3a3a" stroke-width="1.1"/>
<line x1="432.03" y1="320.7" x2="432.03" y2="324.7" stroke="#3a3a3a" stroke-width="1.1"/>
<line x1="480.29" y1="320.7" x2="480.29" y2="324.7" stroke="#3a3a3a" stroke-width="1.1"/>
<line x1="528.56" y1="320.7" x2="528.56" y2="324.7" stroke="#3a3a3a" stroke-width="1.1"/>
<text transform="translate(296.2,249) rotate(-90)" text-anchor="middle" class="ax">TP (mg/L)</text>
<path d="M337.11 234V210.2M334.11 210.2H340.11" stroke="#f0a446" stroke-width="1.1" fill="none"/>
<path d="M337.11 234V250M334.11 250H340.11" stroke="#f0a446" stroke-width="1.1" fill="none"/>
<path d="M343.54 226.5V210.2M340.54 210.2H346.54" stroke="#f0a446" stroke-width="1.1" fill="none"/>
<path d="M343.54 226.5V254.3M340.54 254.3H346.54" stroke="#f0a446" stroke-width="1.1" fill="none"/>
<path d="M351.59 228V206.4M348.59 206.4H354.59" stroke="#f0a446" stroke-width="1.1" fill="none"/>
<path d="M351.59 228V245.2M348.59 245.2H354.59" stroke="#f0a446" stroke-width="1.1" fill="none"/>
<path d="M359.63 247.5V220.9M356.63 220.9H362.63" stroke="#f0a446" stroke-width="1.1" fill="none"/>
<path d="M359.63 247.5V270.3M356.63 270.3H362.63" stroke="#f0a446" stroke-width="1.1" fill="none"/>
<path d="M383.76 252.4V234.2M380.76 234.2H386.76" stroke="#f0a446" stroke-width="1.1" fill="none"/>
<path d="M383.76 252.4V270M380.76 270H386.76" stroke="#f0a446" stroke-width="1.1" fill="none"/>
<path d="M432.03 247.6V238M429.03 238H435.03" stroke="#f0a446" stroke-width="1.1" fill="none"/>
<path d="M432.03 247.6V261.9M429.03 261.9H435.03" stroke="#f0a446" stroke-width="1.1" fill="none"/>
<path d="M480.29 271.4V251.4M477.29 251.4H483.29" stroke="#f0a446" stroke-width="1.1" fill="none"/>
<path d="M480.29 271.4V291.2M477.29 291.2H483.29" stroke="#f0a446" stroke-width="1.1" fill="none"/>
<path d="M528.56 266.7V254M525.56 254H531.56" stroke="#f0a446" stroke-width="1.1" fill="none"/>
<path d="M528.56 266.7V277.8M525.56 277.8H531.56" stroke="#f0a446" stroke-width="1.1" fill="none"/>
<polyline points="335.5,262 337.11,234 340.33,224 343.54,226.5 351.59,228 359.63,247.5 383.76,252.4 432.03,247.6 480.29,271.4 528.56,266.7" fill="none" stroke="#f0a048" stroke-width="1.1"/>
<path d="M335.5 258.6L338.8 264.3L332.2 264.3Z" fill="#f57c14"/>
<path d="M337.11 230.6L340.41 236.3L333.81 236.3Z" fill="#f57c14"/>
<path d="M340.33 220.6L343.63 226.3L337.03 226.3Z" fill="#f57c14"/>
<path d="M343.54 223.1L346.84 228.8L340.24 228.8Z" fill="#f57c14"/>
<path d="M351.59 224.6L354.89 230.3L348.29 230.3Z" fill="#f57c14"/>
<path d="M359.63 244.1L362.93 249.8L356.33 249.8Z" fill="#f57c14"/>
<path d="M383.76 249L387.06 254.7L380.46 254.7Z" fill="#f57c14"/>
<path d="M432.03 244.2L435.33 249.9L428.73 249.9Z" fill="#f57c14"/>
<path d="M480.29 268L483.59 273.7L476.99 273.7Z" fill="#f57c14"/>
<path d="M528.56 263.3L531.86 269L525.26 269Z" fill="#f57c14"/>
<path d="M337.11 232.3V218.6M334.11 218.6H340.11" stroke="#4ccc4c" stroke-width="1.1" fill="none"/>
<path d="M337.11 232.3V246.7M334.11 246.7H340.11" stroke="#4ccc4c" stroke-width="1.1" fill="none"/>
<path d="M340.33 219.6V200.3M337.33 200.3H343.33" stroke="#4ccc4c" stroke-width="1.1" fill="none"/>
<path d="M340.33 219.6V239.1M337.33 239.1H343.33" stroke="#4ccc4c" stroke-width="1.1" fill="none"/>
<path d="M343.54 210.2V198M340.54 198H346.54" stroke="#4ccc4c" stroke-width="1.1" fill="none"/>
<path d="M343.54 210.2V223M340.54 223H346.54" stroke="#4ccc4c" stroke-width="1.1" fill="none"/>
<path d="M351.59 227.7V212.5M348.59 212.5H354.59" stroke="#4ccc4c" stroke-width="1.1" fill="none"/>
<path d="M351.59 227.7V243.7M348.59 243.7H354.59" stroke="#4ccc4c" stroke-width="1.1" fill="none"/>
<path d="M359.63 250.5V236M356.63 236H362.63" stroke="#4ccc4c" stroke-width="1.1" fill="none"/>
<path d="M359.63 250.5V264.7M356.63 264.7H362.63" stroke="#4ccc4c" stroke-width="1.1" fill="none"/>
<path d="M383.76 251.7V234.2M380.76 234.2H386.76" stroke="#4ccc4c" stroke-width="1.1" fill="none"/>
<path d="M383.76 251.7V269.9M380.76 269.9H386.76" stroke="#4ccc4c" stroke-width="1.1" fill="none"/>
<path d="M432.03 232.6V220.5M429.03 220.5H435.03" stroke="#4ccc4c" stroke-width="1.1" fill="none"/>
<path d="M432.03 232.6V244.4M429.03 244.4H435.03" stroke="#4ccc4c" stroke-width="1.1" fill="none"/>
<path d="M480.29 210V195.7M477.29 195.7H483.29" stroke="#4ccc4c" stroke-width="1.1" fill="none"/>
<path d="M480.29 210V224.7M477.29 224.7H483.29" stroke="#4ccc4c" stroke-width="1.1" fill="none"/>
<path d="M528.56 272.4V263.5M525.56 263.5H531.56" stroke="#4ccc4c" stroke-width="1.1" fill="none"/>
<path d="M528.56 272.4V282M525.56 282H531.56" stroke="#4ccc4c" stroke-width="1.1" fill="none"/>
<polyline points="335.5,265 337.11,232.3 340.33,219.6 343.54,210.2 351.59,227.7 359.63,250.5 383.76,251.7 432.03,232.6 480.29,210 528.56,272.4" fill="none" stroke="#2ec02e" stroke-width="1.1"/>
<path d="M335.5 261.8L338.6 265L335.5 268.2L332.4 265Z" fill="#0cbf0c"/>
<path d="M337.11 229.1L340.21 232.3L337.11 235.5L334.01 232.3Z" fill="#0cbf0c"/>
<path d="M340.33 216.4L343.43 219.6L340.33 222.8L337.23 219.6Z" fill="#0cbf0c"/>
<path d="M343.54 207L346.64 210.2L343.54 213.4L340.44 210.2Z" fill="#0cbf0c"/>
<path d="M351.59 224.5L354.69 227.7L351.59 230.9L348.49 227.7Z" fill="#0cbf0c"/>
<path d="M359.63 247.3L362.73 250.5L359.63 253.7L356.53 250.5Z" fill="#0cbf0c"/>
<path d="M383.76 248.5L386.86 251.7L383.76 254.9L380.66 251.7Z" fill="#0cbf0c"/>
<path d="M432.03 229.4L435.13 232.6L432.03 235.8L428.93 232.6Z" fill="#0cbf0c"/>
<path d="M480.29 206.8L483.39 210L480.29 213.2L477.19 210Z" fill="#0cbf0c"/>
<path d="M528.56 269.2L531.66 272.4L528.56 275.6L525.46 272.4Z" fill="#0cbf0c"/>
<path d="M335.5 269.4V265.1M332.5 265.1H338.5" stroke="#4a4ae6" stroke-width="1.1" fill="none"/>
<path d="M335.5 269.4V274M332.5 274H338.5" stroke="#4a4ae6" stroke-width="1.1" fill="none"/>
<path d="M337.11 279.3V273M334.11 273H340.11" stroke="#4a4ae6" stroke-width="1.1" fill="none"/>
<path d="M337.11 279.3V286.5M334.11 286.5H340.11" stroke="#4a4ae6" stroke-width="1.1" fill="none"/>
<path d="M340.33 298.5V291M337.33 291H343.33" stroke="#4a4ae6" stroke-width="1.1" fill="none"/>
<path d="M340.33 298.5V305.3M337.33 305.3H343.33" stroke="#4a4ae6" stroke-width="1.1" fill="none"/>
<path d="M343.54 296.8V289M340.54 289H346.54" stroke="#4a4ae6" stroke-width="1.1" fill="none"/>
<path d="M343.54 296.8V304.5M340.54 304.5H346.54" stroke="#4a4ae6" stroke-width="1.1" fill="none"/>
<path d="M359.63 307V301.9M356.63 301.9H362.63" stroke="#4a4ae6" stroke-width="1.1" fill="none"/>
<path d="M359.63 307V311.3M356.63 311.3H362.63" stroke="#4a4ae6" stroke-width="1.1" fill="none"/>
<path d="M432.03 306.4V301.7M429.03 301.7H435.03" stroke="#4a4ae6" stroke-width="1.1" fill="none"/>
<path d="M432.03 306.4V311.2M429.03 311.2H435.03" stroke="#4a4ae6" stroke-width="1.1" fill="none"/>
<path d="M528.56 301.7V292.1M525.56 292.1H531.56" stroke="#4a4ae6" stroke-width="1.1" fill="none"/>
<path d="M528.56 301.7V311.2M525.56 311.2H531.56" stroke="#4a4ae6" stroke-width="1.1" fill="none"/>
<polyline points="335.5,269.4 337.11,279.3 340.33,298.5 343.54,296.8 351.59,303.3 359.63,307 383.76,308 432.03,306.4 480.29,308 528.56,301.7" fill="none" stroke="#4040dc" stroke-width="1.1"/>
<circle cx="335.5" cy="269.4" r="3.1" fill="#0a0af0"/>
<circle cx="337.11" cy="279.3" r="3.1" fill="#0a0af0"/>
<circle cx="340.33" cy="298.5" r="3.1" fill="#0a0af0"/>
<circle cx="343.54" cy="296.8" r="3.1" fill="#0a0af0"/>
<circle cx="351.59" cy="303.3" r="3.1" fill="#0a0af0"/>
<circle cx="359.63" cy="307" r="3.1" fill="#0a0af0"/>
<circle cx="383.76" cy="308" r="3.1" fill="#0a0af0"/>
<circle cx="432.03" cy="306.4" r="3.1" fill="#0a0af0"/>
<circle cx="480.29" cy="308" r="3.1" fill="#0a0af0"/>
<circle cx="528.56" cy="301.7" r="3.1" fill="#0a0af0"/>
<path transform="translate(339.4,189)" d="M0.00 -2.10L0.59 -0.81L2.00 -0.65L0.95 0.31L1.23 1.70L0.00 1.00L-1.23 1.70L-0.95 0.31L-2.00 -0.65L-0.59 -0.81Z" fill="#1a1a1a"/>
<path transform="translate(343.41,182.4)" d="M0.00 -2.10L0.59 -0.81L2.00 -0.65L0.95 0.31L1.23 1.70L0.00 1.00L-1.23 1.70L-0.95 0.31L-2.00 -0.65L-0.59 -0.81Z" fill="#1a1a1a"/>
<path transform="translate(352.51,194)" d="M0.00 -2.10L0.59 -0.81L2.00 -0.65L0.95 0.31L1.23 1.70L0.00 1.00L-1.23 1.70L-0.95 0.31L-2.00 -0.65L-0.59 -0.81Z" fill="#1a1a1a"/>
<path transform="translate(359.42,207.9)" d="M0.00 -2.10L0.59 -0.81L2.00 -0.65L0.95 0.31L1.23 1.70L0.00 1.00L-1.23 1.70L-0.95 0.31L-2.00 -0.65L-0.59 -0.81Z" fill="#1a1a1a"/>
<path transform="translate(384.04,219.9)" d="M0.00 -2.10L0.59 -0.81L2.00 -0.65L0.95 0.31L1.23 1.70L0.00 1.00L-1.23 1.70L-0.95 0.31L-2.00 -0.65L-0.59 -0.81Z" fill="#1a1a1a"/>
<path transform="translate(432.28,205.6)" d="M0.00 -2.10L0.59 -0.81L2.00 -0.65L0.95 0.31L1.23 1.70L0.00 1.00L-1.23 1.70L-0.95 0.31L-2.00 -0.65L-0.59 -0.81Z" fill="#1a1a1a"/>
<path transform="translate(481.02,185.5)" d="M0.00 -2.10L0.59 -0.81L2.00 -0.65L0.95 0.31L1.23 1.70L0.00 1.00L-1.23 1.70L-0.95 0.31L-2.00 -0.65L-0.59 -0.81Z" fill="#1a1a1a"/>
<path transform="translate(528.76,239.6)" d="M0.00 -2.10L0.59 -0.81L2.00 -0.65L0.95 0.31L1.23 1.70L0.00 1.00L-1.23 1.70L-0.95 0.31L-2.00 -0.65L-0.59 -0.81Z" fill="#1a1a1a"/>
<path d="M337.8 195L341 198.2M337.8 198.2L341 195" stroke="#606060" stroke-width="0.9"/>
<path d="M342.21 188.4L345.41 191.6M342.21 191.6L345.41 188.4" stroke="#606060" stroke-width="0.9"/>
<path d="M350.91 200.3L354.11 203.5M350.91 203.5L354.11 200.3" stroke="#606060" stroke-width="0.9"/>
<path d="M358.22 214L361.42 217.2M358.22 217.2L361.42 214" stroke="#606060" stroke-width="0.9"/>
<path d="M382.44 225.9L385.64 229.1M382.44 229.1L385.64 225.9" stroke="#606060" stroke-width="0.9"/>
<path d="M430.68 211.9L433.88 215.1M430.68 215.1L433.88 211.9" stroke="#606060" stroke-width="0.9"/>
<path d="M478.82 243.4L482.02 246.6M478.82 246.6L482.02 243.4" stroke="#606060" stroke-width="0.9"/>
<path d="M527.16 246.6L530.36 249.8M527.16 249.8L530.36 246.6" stroke="#606060" stroke-width="0.9"/>
<rect x="43.6" y="340.5" width="217.1" height="145.1" fill="none" stroke="#3a3a3a" stroke-width="1.1"/>
<line x1="39.6" y1="485.6" x2="43.6" y2="485.6" stroke="#3a3a3a" stroke-width="1.1"/>
<text transform="translate(37.6,489.1)" text-anchor="end" class="tl">0.0</text>
<line x1="39.6" y1="461.43" x2="43.6" y2="461.43" stroke="#3a3a3a" stroke-width="1.1"/>
<text transform="translate(37.6,464.93)" text-anchor="end" class="tl">0.4</text>
<line x1="39.6" y1="437.26" x2="43.6" y2="437.26" stroke="#3a3a3a" stroke-width="1.1"/>
<text transform="translate(37.6,440.76)" text-anchor="end" class="tl">0.8</text>
<line x1="39.6" y1="413.1" x2="43.6" y2="413.1" stroke="#3a3a3a" stroke-width="1.1"/>
<text transform="translate(37.6,416.6)" text-anchor="end" class="tl">1.2</text>
<line x1="39.6" y1="388.93" x2="43.6" y2="388.93" stroke="#3a3a3a" stroke-width="1.1"/>
<text transform="translate(37.6,392.43)" text-anchor="end" class="tl">1.6</text>
<line x1="39.6" y1="364.76" x2="43.6" y2="364.76" stroke="#3a3a3a" stroke-width="1.1"/>
<text transform="translate(37.6,368.26)" text-anchor="end" class="tl">2.0</text>
<line x1="39.6" y1="340.59" x2="43.6" y2="340.59" stroke="#3a3a3a" stroke-width="1.1"/>
<text transform="translate(37.6,344.09)" text-anchor="end" class="tl">2.4</text>
<line x1="51.6" y1="485.6" x2="51.6" y2="489.6" stroke="#3a3a3a" stroke-width="1.1"/>
<text x="51.6" y="500.7" text-anchor="middle" class="tl">0</text>
<line x1="99.82" y1="485.6" x2="99.82" y2="489.6" stroke="#3a3a3a" stroke-width="1.1"/>
<text x="99.82" y="500.7" text-anchor="middle" class="tl">30</text>
<line x1="148.05" y1="485.6" x2="148.05" y2="489.6" stroke="#3a3a3a" stroke-width="1.1"/>
<text x="148.05" y="500.7" text-anchor="middle" class="tl">60</text>
<line x1="196.27" y1="485.6" x2="196.27" y2="489.6" stroke="#3a3a3a" stroke-width="1.1"/>
<text x="196.27" y="500.7" text-anchor="middle" class="tl">90</text>
<line x1="244.5" y1="485.6" x2="244.5" y2="489.6" stroke="#3a3a3a" stroke-width="1.1"/>
<text x="244.5" y="500.7" text-anchor="middle" class="tl">120</text>
<text x="152.15" y="515.9" text-anchor="middle" class="ax">Time (days)</text>
<text transform="translate(16.8,413) rotate(-90)" text-anchor="middle" class="ax">NH<tspan dy="2.5" font-size="7">4</tspan><tspan dy="-2.5">-N (mg/L)</tspan></text>
<path d="M51.6 439V414.2M48.6 414.2H54.6" stroke="#f0a446" stroke-width="1.1" fill="none"/>
<path d="M51.6 439V465M48.6 465H54.6" stroke="#f0a446" stroke-width="1.1" fill="none"/>
<path d="M67.67 443.6V454.5M64.67 454.5H70.67" stroke="#f0a446" stroke-width="1.1" fill="none"/>
<path d="M75.71 430V402.3M72.71 402.3H78.71" stroke="#f0a446" stroke-width="1.1" fill="none"/>
<path d="M75.71 430V456.5M72.71 456.5H78.71" stroke="#f0a446" stroke-width="1.1" fill="none"/>
<path d="M99.82 447.7V433M96.82 433H102.82" stroke="#f0a446" stroke-width="1.1" fill="none"/>
<path d="M196.27 471V466.7M193.27 466.7H199.27" stroke="#f0a446" stroke-width="1.1" fill="none"/>
<path d="M196.27 471V474.9M193.27 474.9H199.27" stroke="#f0a446" stroke-width="1.1" fill="none"/>
<polyline points="51.6,439 53.21,441 56.42,443 59.64,446 67.67,443.6 75.71,430 99.82,447.7 148.05,465.7 196.27,471 244.5,476.5" fill="none" stroke="#f0a048" stroke-width="1.1"/>
<path d="M51.6 435.6L54.9 441.3L48.3 441.3Z" fill="#f57c14"/>
<path d="M53.21 437.6L56.51 443.3L49.91 443.3Z" fill="#f57c14"/>
<path d="M56.42 439.6L59.72 445.3L53.12 445.3Z" fill="#f57c14"/>
<path d="M59.64 442.6L62.94 448.3L56.34 448.3Z" fill="#f57c14"/>
<path d="M67.67 440.2L70.97 445.9L64.38 445.9Z" fill="#f57c14"/>
<path d="M75.71 426.6L79.01 432.3L72.41 432.3Z" fill="#f57c14"/>
<path d="M99.82 444.3L103.12 450L96.52 450Z" fill="#f57c14"/>
<path d="M148.05 462.3L151.35 468L144.75 468Z" fill="#f57c14"/>
<path d="M196.27 467.6L199.57 473.3L192.97 473.3Z" fill="#f57c14"/>
<path d="M244.5 473.1L247.8 478.8L241.2 478.8Z" fill="#f57c14"/>
<path d="M53.21 434.2V411.1M50.21 411.1H56.21" stroke="#4ccc4c" stroke-width="1.1" fill="none"/>
<path d="M53.21 434.2V468M50.21 468H56.21" stroke="#4ccc4c" stroke-width="1.1" fill="none"/>
<path d="M56.42 400V348.4M53.42 348.4H59.42" stroke="#4ccc4c" stroke-width="1.1" fill="none"/>
<path d="M56.42 400V450M53.42 450H59.42" stroke="#4ccc4c" stroke-width="1.1" fill="none"/>
<path d="M59.64 407.8V389.4M56.64 389.4H62.64" stroke="#4ccc4c" stroke-width="1.1" fill="none"/>
<path d="M59.64 407.8V430M56.64 430H62.64" stroke="#4ccc4c" stroke-width="1.1" fill="none"/>
<path d="M67.67 424.5V395.9M64.67 395.9H70.67" stroke="#4ccc4c" stroke-width="1.1" fill="none"/>
<path d="M67.67 424.5V451.4M64.67 451.4H70.67" stroke="#4ccc4c" stroke-width="1.1" fill="none"/>
<path d="M75.71 420.9V400.5M72.71 400.5H78.71" stroke="#4ccc4c" stroke-width="1.1" fill="none"/>
<path d="M75.71 420.9V442M72.71 442H78.71" stroke="#4ccc4c" stroke-width="1.1" fill="none"/>
<path d="M99.82 441.2V426.5M96.82 426.5H102.82" stroke="#4ccc4c" stroke-width="1.1" fill="none"/>
<path d="M99.82 441.2V456.9M96.82 456.9H102.82" stroke="#4ccc4c" stroke-width="1.1" fill="none"/>
<path d="M148.05 466.7V459.5M145.05 459.5H151.05" stroke="#4ccc4c" stroke-width="1.1" fill="none"/>
<path d="M148.05 466.7V471.6M145.05 471.6H151.05" stroke="#4ccc4c" stroke-width="1.1" fill="none"/>
<path d="M244.5 472.6V467.7M241.5 467.7H247.5" stroke="#4ccc4c" stroke-width="1.1" fill="none"/>
<path d="M244.5 472.6V477.5M241.5 477.5H247.5" stroke="#4ccc4c" stroke-width="1.1" fill="none"/>
<polyline points="51.6,470 53.21,434.2 56.42,400 59.64,407.8 67.67,424.5 75.71,420.9 99.82,441.2 148.05,466.7 196.27,474.9 244.5,472.6" fill="none" stroke="#2ec02e" stroke-width="1.1"/>
<path d="M51.6 466.8L54.7 470L51.6 473.2L48.5 470Z" fill="#0cbf0c"/>
<path d="M53.21 431L56.31 434.2L53.21 437.4L50.11 434.2Z" fill="#0cbf0c"/>
<path d="M56.42 396.8L59.52 400L56.42 403.2L53.32 400Z" fill="#0cbf0c"/>
<path d="M59.64 404.6L62.74 407.8L59.64 411L56.54 407.8Z" fill="#0cbf0c"/>
<path d="M67.67 421.3L70.77 424.5L67.67 427.7L64.58 424.5Z" fill="#0cbf0c"/>
<path d="M75.71 417.7L78.81 420.9L75.71 424.1L72.61 420.9Z" fill="#0cbf0c"/>
<path d="M99.82 438L102.92 441.2L99.82 444.4L96.72 441.2Z" fill="#0cbf0c"/>
<path d="M148.05 463.5L151.15 466.7L148.05 469.9L144.95 466.7Z" fill="#0cbf0c"/>
<path d="M196.27 471.7L199.37 474.9L196.27 478.1L193.17 474.9Z" fill="#0cbf0c"/>
<path d="M244.5 469.4L247.6 472.6L244.5 475.8L241.4 472.6Z" fill="#0cbf0c"/>
<path d="M51.6 469.5V475M48.6 475H54.6" stroke="#4a4ae6" stroke-width="1.1" fill="none"/>
<path d="M53.21 466.2V457.4M50.21 457.4H56.21" stroke="#4a4ae6" stroke-width="1.1" fill="none"/>
<path d="M56.42 452V441.7M53.42 441.7H59.42" stroke="#4a4ae6" stroke-width="1.1" fill="none"/>
<path d="M56.42 452V457M53.42 457H59.42" stroke="#4a4ae6" stroke-width="1.1" fill="none"/>
<path d="M59.64 462.2V455.7M56.64 455.7H62.64" stroke="#4a4ae6" stroke-width="1.1" fill="none"/>
<path d="M59.64 462.2V467.9M56.64 467.9H62.64" stroke="#4a4ae6" stroke-width="1.1" fill="none"/>
<path d="M67.67 463.8V456.5M64.67 456.5H70.67" stroke="#4a4ae6" stroke-width="1.1" fill="none"/>
<path d="M67.67 463.8V471M64.67 471H70.67" stroke="#4a4ae6" stroke-width="1.1" fill="none"/>
<path d="M75.71 464.2V460.8M72.71 460.8H78.71" stroke="#4a4ae6" stroke-width="1.1" fill="none"/>
<path d="M75.71 464.2V467.6M72.71 467.6H78.71" stroke="#4a4ae6" stroke-width="1.1" fill="none"/>
<path d="M99.82 461.8V456.9M96.82 456.9H102.82" stroke="#4a4ae6" stroke-width="1.1" fill="none"/>
<path d="M99.82 461.8V467.4M96.82 467.4H102.82" stroke="#4a4ae6" stroke-width="1.1" fill="none"/>
<polyline points="51.6,469.5 53.21,466.2 56.42,452 59.64,462.2 67.67,463.8 75.71,464.2 99.82,461.8 148.05,469.3 196.27,475.5 244.5,481.4" fill="none" stroke="#4040dc" stroke-width="1.1"/>
<circle cx="51.6" cy="469.5" r="3.1" fill="#0a0af0"/>
<circle cx="53.21" cy="466.2" r="3.1" fill="#0a0af0"/>
<circle cx="56.42" cy="452" r="3.1" fill="#0a0af0"/>
<circle cx="59.64" cy="462.2" r="3.1" fill="#0a0af0"/>
<circle cx="67.67" cy="463.8" r="3.1" fill="#0a0af0"/>
<circle cx="75.71" cy="464.2" r="3.1" fill="#0a0af0"/>
<circle cx="99.82" cy="461.8" r="3.1" fill="#0a0af0"/>
<circle cx="148.05" cy="469.3" r="3.1" fill="#0a0af0"/>
<circle cx="196.27" cy="475.5" r="3.1" fill="#0a0af0"/>
<circle cx="244.5" cy="481.4" r="3.1" fill="#0a0af0"/>
<path transform="translate(60.44,380.3)" d="M0.00 -2.10L0.59 -0.81L2.00 -0.65L0.95 0.31L1.23 1.70L0.00 1.00L-1.23 1.70L-0.95 0.31L-2.00 -0.65L-0.59 -0.81Z" fill="#1a1a1a"/>
<rect x="326.8" y="341.4" width="216.9" height="144" fill="none" stroke="#3a3a3a" stroke-width="1.1"/>
<line x1="322.8" y1="485.4" x2="326.8" y2="485.4" stroke="#3a3a3a" stroke-width="1.1"/>
<text transform="translate(320.8,488.9)" text-anchor="end" class="tl">0.0</text>
<line x1="322.8" y1="467.4" x2="326.8" y2="467.4" stroke="#3a3a3a" stroke-width="1.1"/>
<text transform="translate(320.8,470.9)" text-anchor="end" class="tl">0.5</text>
<line x1="322.8" y1="449.4" x2="326.8" y2="449.4" stroke="#3a3a3a" stroke-width="1.1"/>
<text transform="translate(320.8,452.9)" text-anchor="end" class="tl">1.0</text>
<line x1="322.8" y1="431.4" x2="326.8" y2="431.4" stroke="#3a3a3a" stroke-width="1.1"/>
<text transform="translate(320.8,434.9)" text-anchor="end" class="tl">1.5</text>
<line x1="322.8" y1="413.4" x2="326.8" y2="413.4" stroke="#3a3a3a" stroke-width="1.1"/>
<text transform="translate(320.8,416.9)" text-anchor="end" class="tl">2.0</text>
<line x1="322.8" y1="395.4" x2="326.8" y2="395.4" stroke="#3a3a3a" stroke-width="1.1"/>
<text transform="translate(320.8,398.9)" text-anchor="end" class="tl">2.5</text>
<line x1="322.8" y1="377.4" x2="326.8" y2="377.4" stroke="#3a3a3a" stroke-width="1.1"/>
<text transform="translate(320.8,380.9)" text-anchor="end" class="tl">3.0</text>
<line x1="322.8" y1="359.4" x2="326.8" y2="359.4" stroke="#3a3a3a" stroke-width="1.1"/>
<text transform="translate(320.8,362.9)" text-anchor="end" class="tl">3.5</text>
<line x1="322.8" y1="341.4" x2="326.8" y2="341.4" stroke="#3a3a3a" stroke-width="1.1"/>
<text transform="translate(320.8,344.9)" text-anchor="end" class="tl">4.0</text>
<line x1="334.8" y1="485.4" x2="334.8" y2="489.4" stroke="#3a3a3a" stroke-width="1.1"/>
<text x="334.8" y="500.5" text-anchor="middle" class="tl">0</text>
<line x1="382.93" y1="485.4" x2="382.93" y2="489.4" stroke="#3a3a3a" stroke-width="1.1"/>
<text x="382.93" y="500.5" text-anchor="middle" class="tl">30</text>
<line x1="431.05" y1="485.4" x2="431.05" y2="489.4" stroke="#3a3a3a" stroke-width="1.1"/>
<text x="431.05" y="500.5" text-anchor="middle" class="tl">60</text>
<line x1="479.18" y1="485.4" x2="479.18" y2="489.4" stroke="#3a3a3a" stroke-width="1.1"/>
<text x="479.18" y="500.5" text-anchor="middle" class="tl">90</text>
<line x1="527.3" y1="485.4" x2="527.3" y2="489.4" stroke="#3a3a3a" stroke-width="1.1"/>
<text x="527.3" y="500.5" text-anchor="middle" class="tl">120</text>
<text x="435.25" y="515.7" text-anchor="middle" class="ax">Time (days)</text>
<text transform="translate(300.4,414) rotate(-90)" text-anchor="middle" class="ax">NO<tspan dy="2.5" font-size="7">3</tspan><tspan dy="-2.5">-N (mg/L)</tspan></text>
<path d="M350.84 449V417.1M347.84 417.1H353.84" stroke="#f0a446" stroke-width="1.1" fill="none"/>
<path d="M350.84 449V474M347.84 474H353.84" stroke="#f0a446" stroke-width="1.1" fill="none"/>
<path d="M431.05 445.2V436.3M428.05 436.3H434.05" stroke="#f0a446" stroke-width="1.1" fill="none"/>
<path d="M431.05 445.2V454.1M428.05 454.1H434.05" stroke="#f0a446" stroke-width="1.1" fill="none"/>
<path d="M479.18 418.2V407M476.18 407H482.18" stroke="#f0a446" stroke-width="1.1" fill="none"/>
<path d="M479.18 418.2V428.7M476.18 428.7H482.18" stroke="#f0a446" stroke-width="1.1" fill="none"/>
<path d="M527.3 419.1V407M524.3 407H530.3" stroke="#f0a446" stroke-width="1.1" fill="none"/>
<path d="M527.3 419.1V430.3M524.3 430.3H530.3" stroke="#f0a446" stroke-width="1.1" fill="none"/>
<polyline points="334.8,465 336.4,470 339.61,442 342.82,470 350.84,449 358.86,430.8 382.93,456.4 431.05,445.2 479.18,418.2 527.3,419.1" fill="none" stroke="#f0a048" stroke-width="1.1"/>
<path d="M334.8 461.6L338.1 467.3L331.5 467.3Z" fill="#f57c14"/>
<path d="M336.4 466.6L339.7 472.3L333.1 472.3Z" fill="#f57c14"/>
<path d="M339.61 438.6L342.91 444.3L336.31 444.3Z" fill="#f57c14"/>
<path d="M342.82 466.6L346.12 472.3L339.52 472.3Z" fill="#f57c14"/>
<path d="M350.84 445.6L354.14 451.3L347.54 451.3Z" fill="#f57c14"/>
<path d="M358.86 427.4L362.16 433.1L355.56 433.1Z" fill="#f57c14"/>
<path d="M382.93 453L386.23 458.7L379.63 458.7Z" fill="#f57c14"/>
<path d="M431.05 441.8L434.35 447.5L427.75 447.5Z" fill="#f57c14"/>
<path d="M479.18 414.8L482.48 420.5L475.88 420.5Z" fill="#f57c14"/>
<path d="M527.3 415.7L530.6 421.4L524 421.4Z" fill="#f57c14"/>
<path d="M336.4 432V401.2M333.4 401.2H339.4" stroke="#4ccc4c" stroke-width="1.1" fill="none"/>
<path d="M336.4 432V462M333.4 462H339.4" stroke="#4ccc4c" stroke-width="1.1" fill="none"/>
<path d="M339.61 415.9V356.7M336.61 356.7H342.61" stroke="#4ccc4c" stroke-width="1.1" fill="none"/>
<path d="M339.61 415.9V470M336.61 470H342.61" stroke="#4ccc4c" stroke-width="1.1" fill="none"/>
<path d="M342.82 448.2V423.2M339.82 423.2H345.82" stroke="#4ccc4c" stroke-width="1.1" fill="none"/>
<path d="M342.82 448.2V472M339.82 472H345.82" stroke="#4ccc4c" stroke-width="1.1" fill="none"/>
<path d="M358.86 420.2V374M355.86 374H361.86" stroke="#4ccc4c" stroke-width="1.1" fill="none"/>
<path d="M358.86 420.2V466.7M355.86 466.7H361.86" stroke="#4ccc4c" stroke-width="1.1" fill="none"/>
<path d="M382.93 444.3V434.1M379.93 434.1H385.93" stroke="#4ccc4c" stroke-width="1.1" fill="none"/>
<path d="M382.93 444.3V453.8M379.93 453.8H385.93" stroke="#4ccc4c" stroke-width="1.1" fill="none"/>
<path d="M431.05 445.2V428.7M428.05 428.7H434.05" stroke="#4ccc4c" stroke-width="1.1" fill="none"/>
<path d="M431.05 445.2V461.8M428.05 461.8H434.05" stroke="#4ccc4c" stroke-width="1.1" fill="none"/>
<path d="M479.18 438.2V428.7M476.18 428.7H482.18" stroke="#4ccc4c" stroke-width="1.1" fill="none"/>
<path d="M479.18 438.2V447.8M476.18 447.8H482.18" stroke="#4ccc4c" stroke-width="1.1" fill="none"/>
<path d="M527.3 419.8V400.7M524.3 400.7H530.3" stroke="#4ccc4c" stroke-width="1.1" fill="none"/>
<path d="M527.3 419.8V439.5M524.3 439.5H530.3" stroke="#4ccc4c" stroke-width="1.1" fill="none"/>
<polyline points="334.8,462 336.4,432 339.61,415.9 342.82,448.2 350.84,447.9 358.86,420.2 382.93,444.3 431.05,445.2 479.18,438.2 527.3,419.8" fill="none" stroke="#2ec02e" stroke-width="1.1"/>
<path d="M334.8 458.8L337.9 462L334.8 465.2L331.7 462Z" fill="#0cbf0c"/>
<path d="M336.4 428.8L339.5 432L336.4 435.2L333.3 432Z" fill="#0cbf0c"/>
<path d="M339.61 412.7L342.71 415.9L339.61 419.1L336.51 415.9Z" fill="#0cbf0c"/>
<path d="M342.82 445L345.92 448.2L342.82 451.4L339.72 448.2Z" fill="#0cbf0c"/>
<path d="M350.84 444.7L353.94 447.9L350.84 451.1L347.74 447.9Z" fill="#0cbf0c"/>
<path d="M358.86 417L361.96 420.2L358.86 423.4L355.76 420.2Z" fill="#0cbf0c"/>
<path d="M382.93 441.1L386.03 444.3L382.93 447.5L379.83 444.3Z" fill="#0cbf0c"/>
<path d="M431.05 442L434.15 445.2L431.05 448.4L427.95 445.2Z" fill="#0cbf0c"/>
<path d="M479.18 435L482.28 438.2L479.18 441.4L476.08 438.2Z" fill="#0cbf0c"/>
<path d="M527.3 416.6L530.4 419.8L527.3 423L524.2 419.8Z" fill="#0cbf0c"/>
<path d="M342.82 472.6V481.4M339.82 481.4H345.82" stroke="#4a4ae6" stroke-width="1.1" fill="none"/>
<path d="M350.84 465.3V454.6M347.84 454.6H353.84" stroke="#4a4ae6" stroke-width="1.1" fill="none"/>
<path d="M350.84 465.3V476.2M347.84 476.2H353.84" stroke="#4a4ae6" stroke-width="1.1" fill="none"/>
<path d="M358.86 452.6V440.3M355.86 440.3H361.86" stroke="#4a4ae6" stroke-width="1.1" fill="none"/>
<path d="M358.86 452.6V462M355.86 462H361.86" stroke="#4a4ae6" stroke-width="1.1" fill="none"/>
<path d="M382.93 471.6V464.3M379.93 464.3H385.93" stroke="#4a4ae6" stroke-width="1.1" fill="none"/>
<path d="M382.93 471.6V479.3M379.93 479.3H385.93" stroke="#4a4ae6" stroke-width="1.1" fill="none"/>
<path d="M431.05 463.4V450.6M428.05 450.6H434.05" stroke="#4a4ae6" stroke-width="1.1" fill="none"/>
<path d="M431.05 463.4V475.4M428.05 475.4H434.05" stroke="#4a4ae6" stroke-width="1.1" fill="none"/>
<path d="M479.18 449V437.3M476.18 437.3H482.18" stroke="#4a4ae6" stroke-width="1.1" fill="none"/>
<path d="M479.18 449V461.1M476.18 461.1H482.18" stroke="#4a4ae6" stroke-width="1.1" fill="none"/>
<path d="M527.3 451.9V445.9M524.3 445.9H530.3" stroke="#4a4ae6" stroke-width="1.1" fill="none"/>
<path d="M527.3 451.9V458M524.3 458H530.3" stroke="#4a4ae6" stroke-width="1.1" fill="none"/>
<polyline points="334.8,455.6 336.4,460.7 339.61,468.4 342.82,472.6 350.84,465.3 358.86,452.6 382.93,471.6 431.05,463.4 479.18,449 527.3,451.9" fill="none" stroke="#4040dc" stroke-width="1.1"/>
<circle cx="334.8" cy="455.6" r="3.1" fill="#0a0af0"/>
<circle cx="336.4" cy="460.7" r="3.1" fill="#0a0af0"/>
<circle cx="339.61" cy="468.4" r="3.1" fill="#0a0af0"/>
<circle cx="342.82" cy="472.6" r="3.1" fill="#0a0af0"/>
<circle cx="350.84" cy="465.3" r="3.1" fill="#0a0af0"/>
<circle cx="358.86" cy="452.6" r="3.1" fill="#0a0af0"/>
<circle cx="382.93" cy="471.6" r="3.1" fill="#0a0af0"/>
<circle cx="431.05" cy="463.4" r="3.1" fill="#0a0af0"/>
<circle cx="479.18" cy="449" r="3.1" fill="#0a0af0"/>
<circle cx="527.3" cy="451.9" r="3.1" fill="#0a0af0"/>
<path transform="translate(382.68,424.3)" d="M0.00 -2.10L0.59 -0.81L2.00 -0.65L0.95 0.31L1.23 1.70L0.00 1.00L-1.23 1.70L-0.95 0.31L-2.00 -0.65L-0.59 -0.81Z" fill="#1a1a1a"/>
<path d="M476.93 398.4L480.13 401.6M476.93 401.6L480.13 398.4" stroke="#606060" stroke-width="0.9"/>
<path d="M525.21 391.8L528.41 395M525.21 395L528.41 391.8" stroke="#606060" stroke-width="0.9"/>
<line x1="62.3" y1="24.2" x2="77.7" y2="24.2" stroke="#4040dc" stroke-width="1.1"/>
<circle cx="70" cy="24.2" r="3.5" fill="#0a0af0"/>
<text x="86.5" y="27.8" class="lg" font-style="normal" textLength="32.3" lengthAdjust="spacingAndGlyphs">Control</text>
<line x1="62.3" y1="37.0" x2="77.7" y2="37.0" stroke="#2ec02e" stroke-width="1.1"/>
<path d="M70 33.6L73.3 37.0L70 40.4L66.7 37.0Z" fill="#0cbf0c"/>
<text x="86.5" y="40.6" class="lg" font-style="italic" textLength="52.5" lengthAdjust="spacingAndGlyphs">T. orientalis</text>
<line x1="62.3" y1="49.2" x2="77.7" y2="49.2" stroke="#f0a048" stroke-width="1.1"/>
<path d="M70 46L73.2 51.4L66.8 51.4Z" fill="#f57c14"/>
<text x="86.5" y="52.8" class="lg" font-style="italic" textLength="50" lengthAdjust="spacingAndGlyphs">P. australis</text>
</svg>
</body></html>
